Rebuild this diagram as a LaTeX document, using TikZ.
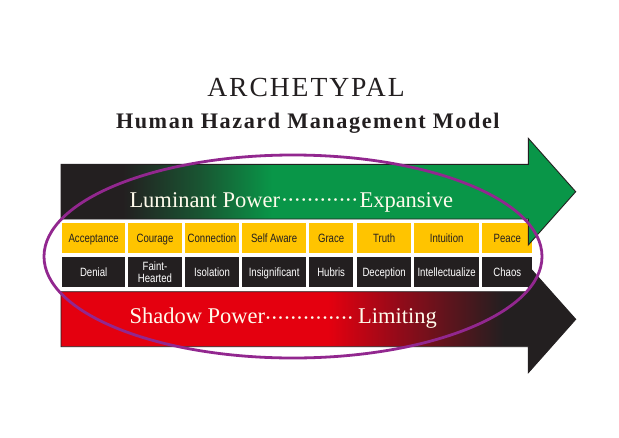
\documentclass[tikz,border=0pt]{standalone}
\usepackage{fontspec}
\setmainfont{Liberation Serif}
\newfontfamily\boxfont[FakeStretch=0.8]{Liberation Sans}
\newfontfamily\ttlfont[LetterSpace=7]{Liberation Serif}
\definecolor{ink}{RGB}{35,31,32}
\definecolor{lgreen}{RGB}{9,150,72}
\definecolor{lummid}{RGB}{25,85,50}
\definecolor{sred}{RGB}{228,0,15}
\definecolor{redmid}{RGB}{150,10,25}
\definecolor{amber}{RGB}{255,196,0}
\definecolor{ringviolet}{RGB}{146,39,143}
\definecolor{cream}{RGB}{255,251,236}
\pgfdeclarehorizontalshading{lumshade}{100bp}{color(0bp)=(ink); color(31bp)=(ink); color(38.5bp)=(lummid); color(45.5bp)=(lgreen); color(100bp)=(lgreen)}
\pgfdeclarehorizontalshading{shadshade}{100bp}{color(0bp)=(sred); color(51bp)=(sred); color(57.5bp)=(redmid); color(68bp)=(ink); color(100bp)=(ink)}
\tikzset{
  cellbox/.style={rectangle, inner sep=0pt, minimum height=30pt, text height=8.6pt, text depth=0pt, font=\boxfont\fontsize{12}{12.4}\selectfont},
  goodcell/.style={cellbox, fill=amber, text=ink},
  badcell/.style={cellbox, fill=ink, text=white},
  badtwo/.style={rectangle, inner sep=0pt, minimum height=30pt, fill=ink, text=white, align=center, font=\boxfont\fontsize{12}{12.4}\selectfont},
  arrowtext/.style={inner sep=0pt, text=cream, font=\fontsize{22.5}{27}\selectfont},
  titletext/.style={inner sep=0pt, text=ink, anchor=base},
  bigarrow/.style={draw=ink, line width=0.9pt}
}
\newcommand{\dotrun}[1]{\hbox to #1{\xleaders\hbox to 6pt{\hss·\hss}\hfill}}
\begin{document}
\begin{tikzpicture}[x=1pt,y=-1pt]
\useasboundingbox (0,0) rectangle (619,437);
\fill[white] (0,0) rectangle (619,437);

% titles
\node[titletext, font=\ttlfont\fontsize{27.6}{30}\selectfont] (t1) at (306,96.7) {ARCHETYPAL};
\node[titletext, font=\ttlfont\bfseries\fontsize{22.2}{26}\selectfont] (t2) at (307.8,128.3) {Human Hazard Management Model};

% cells
\foreach \n/\c/\w/\a in {1/93.65/62.7/Acceptance, 2/155/53.4/Courage, 3/212/54/Connection, 4/274.15/63.7/Self Aware, 5/331.15/44.3/Grace, 6/384.15/53.7/Truth, 7/446.65/64.7/Intuition, 8/507.3/50/Peace}
  \node[goodcell, minimum width=\w pt] (g\n) at (\c,238.3) {\a};
\foreach \n/\c/\w/\a in {1/93.65/62.7/Denial, 3/212/54/Isolation, 4/274.15/63.7/Insignificant, 5/331.15/44.3/Hubris, 6/384.15/53.7/Deception, 7/446.65/64.7/Intellectualize, 8/507.3/50/Chaos}
  \node[badcell, minimum width=\w pt] (k\n) at (\c,272.3) {\a};
\node[badtwo, minimum width=53.4pt] (k2) at (155,272.3) {Faint-\\Hearted};

% arrows
\shadedraw[shading=lumshade, bigarrow] (61,164.3) -- (528.3,164.3) -- (528.3,138.3) -- (575.7,191.7) -- (528.3,245) -- (528.3,219) -- (61,219) -- cycle;
\shadedraw[shading=shadshade, bigarrow] (61,291.7) -- (528.3,291.7) -- (528.3,266) -- (575.7,319.3) -- (528.3,372.7) -- (528.3,346.7) -- (61,346.7) -- cycle;

% arrow texts
\node[arrowtext, anchor=base west] (lum) at (129.3,207.3) {Luminant Power};
\node[arrowtext, anchor=base west] (lumdots) at (281,207.8) {\dotrun{77pt}};
\node[arrowtext, anchor=base west] (exp) at (359.3,207.3) {Expansive};
\node[arrowtext, anchor=base west] (sha) at (129.3,323.3) {Shadow Power};
\node[arrowtext, anchor=base west] (shadots) at (264.5,325) {\dotrun{89pt}};
\node[arrowtext, anchor=base west] (lim) at (358,323.3) {Limiting};

% ring
\draw[ringviolet, line width=2.8pt] (293,256.5) ellipse [x radius=249, y radius=101.5];
\end{tikzpicture}
\end{document}
